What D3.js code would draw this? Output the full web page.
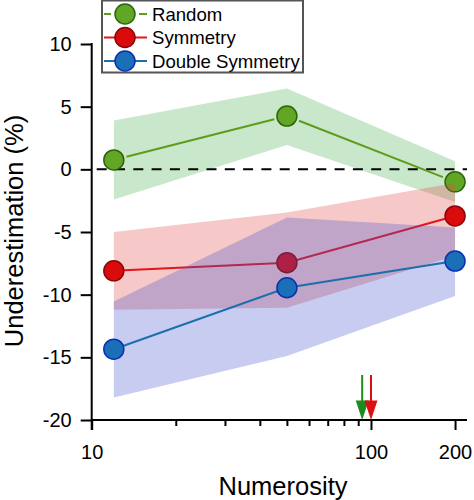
<!DOCTYPE html>
<html>
<head>
<meta charset="utf-8">
<script src="https://cdn.jsdelivr.net/npm/d3@7"></script>
<style>
  html, body { margin: 0; padding: 0; background: #fff; }
  svg { display: block; font-family: "Liberation Sans", Arial, sans-serif; }
</style>
</head>
<body>
<svg id="chart" width="474" height="500"></svg>
<script>
// ---------------- data ----------------
const numerosity = [12, 50, 200];

const randomMean = [0.75, 4.25, -1.0];
const randomLo   = [-2.4, 1.95, -2.6];
const randomHi   = [3.9, 6.45, 0.65];

const symmetryMean = [-8.1, -7.45, -3.72];
const symmetryLo   = [-11.2, -11.05, -6.9];
const symmetryHi   = [-5.0, -3.45, -1.1];

const doubleMean = [-14.35, -9.45, -7.32];
const doubleLo   = [-18.2, -14.9, -10.1];
const doubleHi   = [-10.55, -3.85, -4.65];

const seriesNames = ["Random", "Symmetry", "Double Symmetry"];

const yTicks = [-20, -15, -10, -5, 0, 5, 10];
const xTicks = [10, 20, 30, 40, 50, 60, 70, 80, 90, 100, 200];
const xTickLabels = {10: "10", 100: "100", 200: "200"};

const arrowValues = [93, 100];   // green, red arrows on x axis

// ---------------- styles ----------------
const styles = {
  "Random":          {line: "#5c9e1c", fill: "#62a626", stroke: "#2c650b", band: "#4caf50", bandOp: 0.3, gap: true},
  "Symmetry":        {line: "#e3141c", fill: "#d90b0b", stroke: "#8a0606", band: "#e04848", bandOp: 0.3, gap: false},
  "Double Symmetry": {line: "#1c6fae", fill: "#1a70b6", stroke: "#0c2fb0", band: "#4455cc", bandOp: 0.3, gap: false}
};
const arrowColors = ["#1d8c1d", "#dc1010"];

const series = [
  {name: seriesNames[0], mean: randomMean, lo: randomLo, hi: randomHi},
  {name: seriesNames[1], mean: symmetryMean, lo: symmetryLo, hi: symmetryHi},
  {name: seriesNames[2], mean: doubleMean, lo: doubleLo, hi: doubleHi}
];

// ---------------- scales ----------------
const svg = d3.select("#chart");
const x = d3.scaleLog().domain([10, 220.7]).range([91.7, 467]);
const y = d3.scaleLinear().domain([-20, 10]).range([420, 44]);
const R = 10;

// ---------------- axes ----------------
const yAxis = d3.axisLeft(y).tickValues(yTicks).tickSize(11).tickSizeOuter(0).tickPadding(9)
  .tickFormat(d => String(d));
const gy = svg.append("g").attr("transform", `translate(${x(10)},0)`).call(yAxis);
gy.select(".domain").remove();
gy.selectAll(".tick line").attr("stroke", "#000").attr("stroke-width", 2);
gy.selectAll(".tick text").attr("font-size", 20).attr("fill", "#000")
  .attr("font-family", "Liberation Sans, Arial, sans-serif");
svg.append("line").attr("x1", x(10)).attr("x2", x(10)).attr("y1", y(10) - 1).attr("y2", 430)
  .attr("stroke", "#000").attr("stroke-width", 2);

const xAxis = d3.axisBottom(x).tickValues(xTicks).tickSize(10).tickSizeOuter(0).tickPadding(15)
  .tickFormat(d => xTickLabels[d] || "");
const gx = svg.append("g").attr("transform", `translate(0,${y(-20)})`).call(xAxis);
gx.select(".domain").remove();
gx.selectAll(".tick line").attr("stroke", "#000").attr("stroke-width", 2)
  .attr("y2", d => xTickLabels[d] ? 10 : 6);
gx.selectAll(".tick text").attr("font-size", 20).attr("fill", "#000")
  .attr("font-family", "Liberation Sans, Arial, sans-serif");
svg.append("line").attr("x1", x(10)).attr("x2", 467).attr("y1", y(-20)).attr("y2", y(-20))
  .attr("stroke", "#000").attr("stroke-width", 2);

// axis titles
svg.append("text").attr("x", 283).attr("y", 495).attr("text-anchor", "middle")
  .attr("font-size", 25.5).attr("fill", "#000").text("Numerosity");
svg.append("text").attr("transform", "translate(23,231) rotate(-90)").attr("text-anchor", "middle")
  .attr("font-size", 25.5).attr("fill", "#000").text("Underestimation (%)");

// ---------------- data layers ----------------
const area = d3.area().x(d => x(d.n)).y0(d => y(d.lo)).y1(d => y(d.hi));
const line = d3.line().x(d => x(d.n)).y(d => y(d.v));

series.forEach((s, si) => {
  const st = styles[s.name];
  const pts = numerosity.map((n, i) => ({n, v: s.mean[i], lo: s.lo[i], hi: s.hi[i]}));
  svg.append("path").datum(pts).attr("d", area).attr("fill", st.band).attr("fill-opacity", st.bandOp);

  if (si === 0) {
    // zero reference line
    svg.append("line").attr("x1", 96.7).attr("x2", 467).attr("y1", y(0)).attr("y2", y(0))
      .attr("stroke", "#000").attr("stroke-width", 2).attr("stroke-dasharray", "10,8.3");
  }

  if (st.gap) {
    // line segments with small gaps around markers
    for (let i = 0; i < pts.length - 1; i++) {
      const x1 = x(pts[i].n), y1 = y(pts[i].v), x2 = x(pts[i + 1].n), y2 = y(pts[i + 1].v);
      const L = Math.hypot(x2 - x1, y2 - y1), g = R + 3;
      const ux = (x2 - x1) / L, uy = (y2 - y1) / L;
      svg.append("line").attr("x1", x1 + ux * g).attr("y1", y1 + uy * g)
        .attr("x2", x2 - ux * g).attr("y2", y2 - uy * g)
        .attr("stroke", st.line).attr("stroke-width", 2);
    }
  } else {
    svg.append("path").datum(pts).attr("d", line).attr("fill", "none")
      .attr("stroke", st.line).attr("stroke-width", 2);
  }
  svg.selectAll(null).data(pts).enter().append("circle")
    .attr("cx", d => x(d.n)).attr("cy", d => y(d.v)).attr("r", R)
    .attr("fill", st.fill).attr("stroke", st.stroke).attr("stroke-width", 1.5);
});

// ---------------- arrows ----------------
arrowValues.forEach((v, i) => {
  const ax = x(v), tip = y(-20);
  svg.append("line").attr("x1", ax).attr("x2", ax).attr("y1", 375).attr("y2", tip - 18)
    .attr("stroke", arrowColors[i]).attr("stroke-width", 2);
  svg.append("path").attr("d", `M${ax - 6.5},${tip - 19.5}L${ax + 6.5},${tip - 19.5}L${ax},${tip}Z`)
    .attr("fill", arrowColors[i]);
});

// ---------------- legend ----------------
const lg = svg.append("g");
lg.append("rect").attr("x", 102).attr("y", 0.5).attr("width", 201).attr("height", 72)
  .attr("fill", "#fff").attr("stroke", "#555").attr("stroke-width", 2);
const rowY = [14, 37.5, 61];
series.forEach((s, i) => {
  const st = styles[s.name];
  const cy = rowY[i];
  if (st.gap) {
    lg.append("line").attr("x1", 104).attr("x2", 111).attr("y1", cy).attr("y2", cy)
      .attr("stroke", st.line).attr("stroke-width", 2);
    lg.append("line").attr("x1", 139).attr("x2", 147).attr("y1", cy).attr("y2", cy)
      .attr("stroke", st.line).attr("stroke-width", 2);
  } else {
    lg.append("line").attr("x1", 104).attr("x2", 147).attr("y1", cy).attr("y2", cy)
      .attr("stroke", st.line).attr("stroke-width", 2);
  }
  lg.append("circle").attr("cx", 125).attr("cy", cy).attr("r", R)
    .attr("fill", st.fill).attr("stroke", st.stroke).attr("stroke-width", 1.5);
  lg.append("text").attr("x", 152).attr("y", cy + 6.7).attr("font-size", 18.6)
    .attr("fill", "#000").text(s.name);
});
</script>
</body>
</html>
